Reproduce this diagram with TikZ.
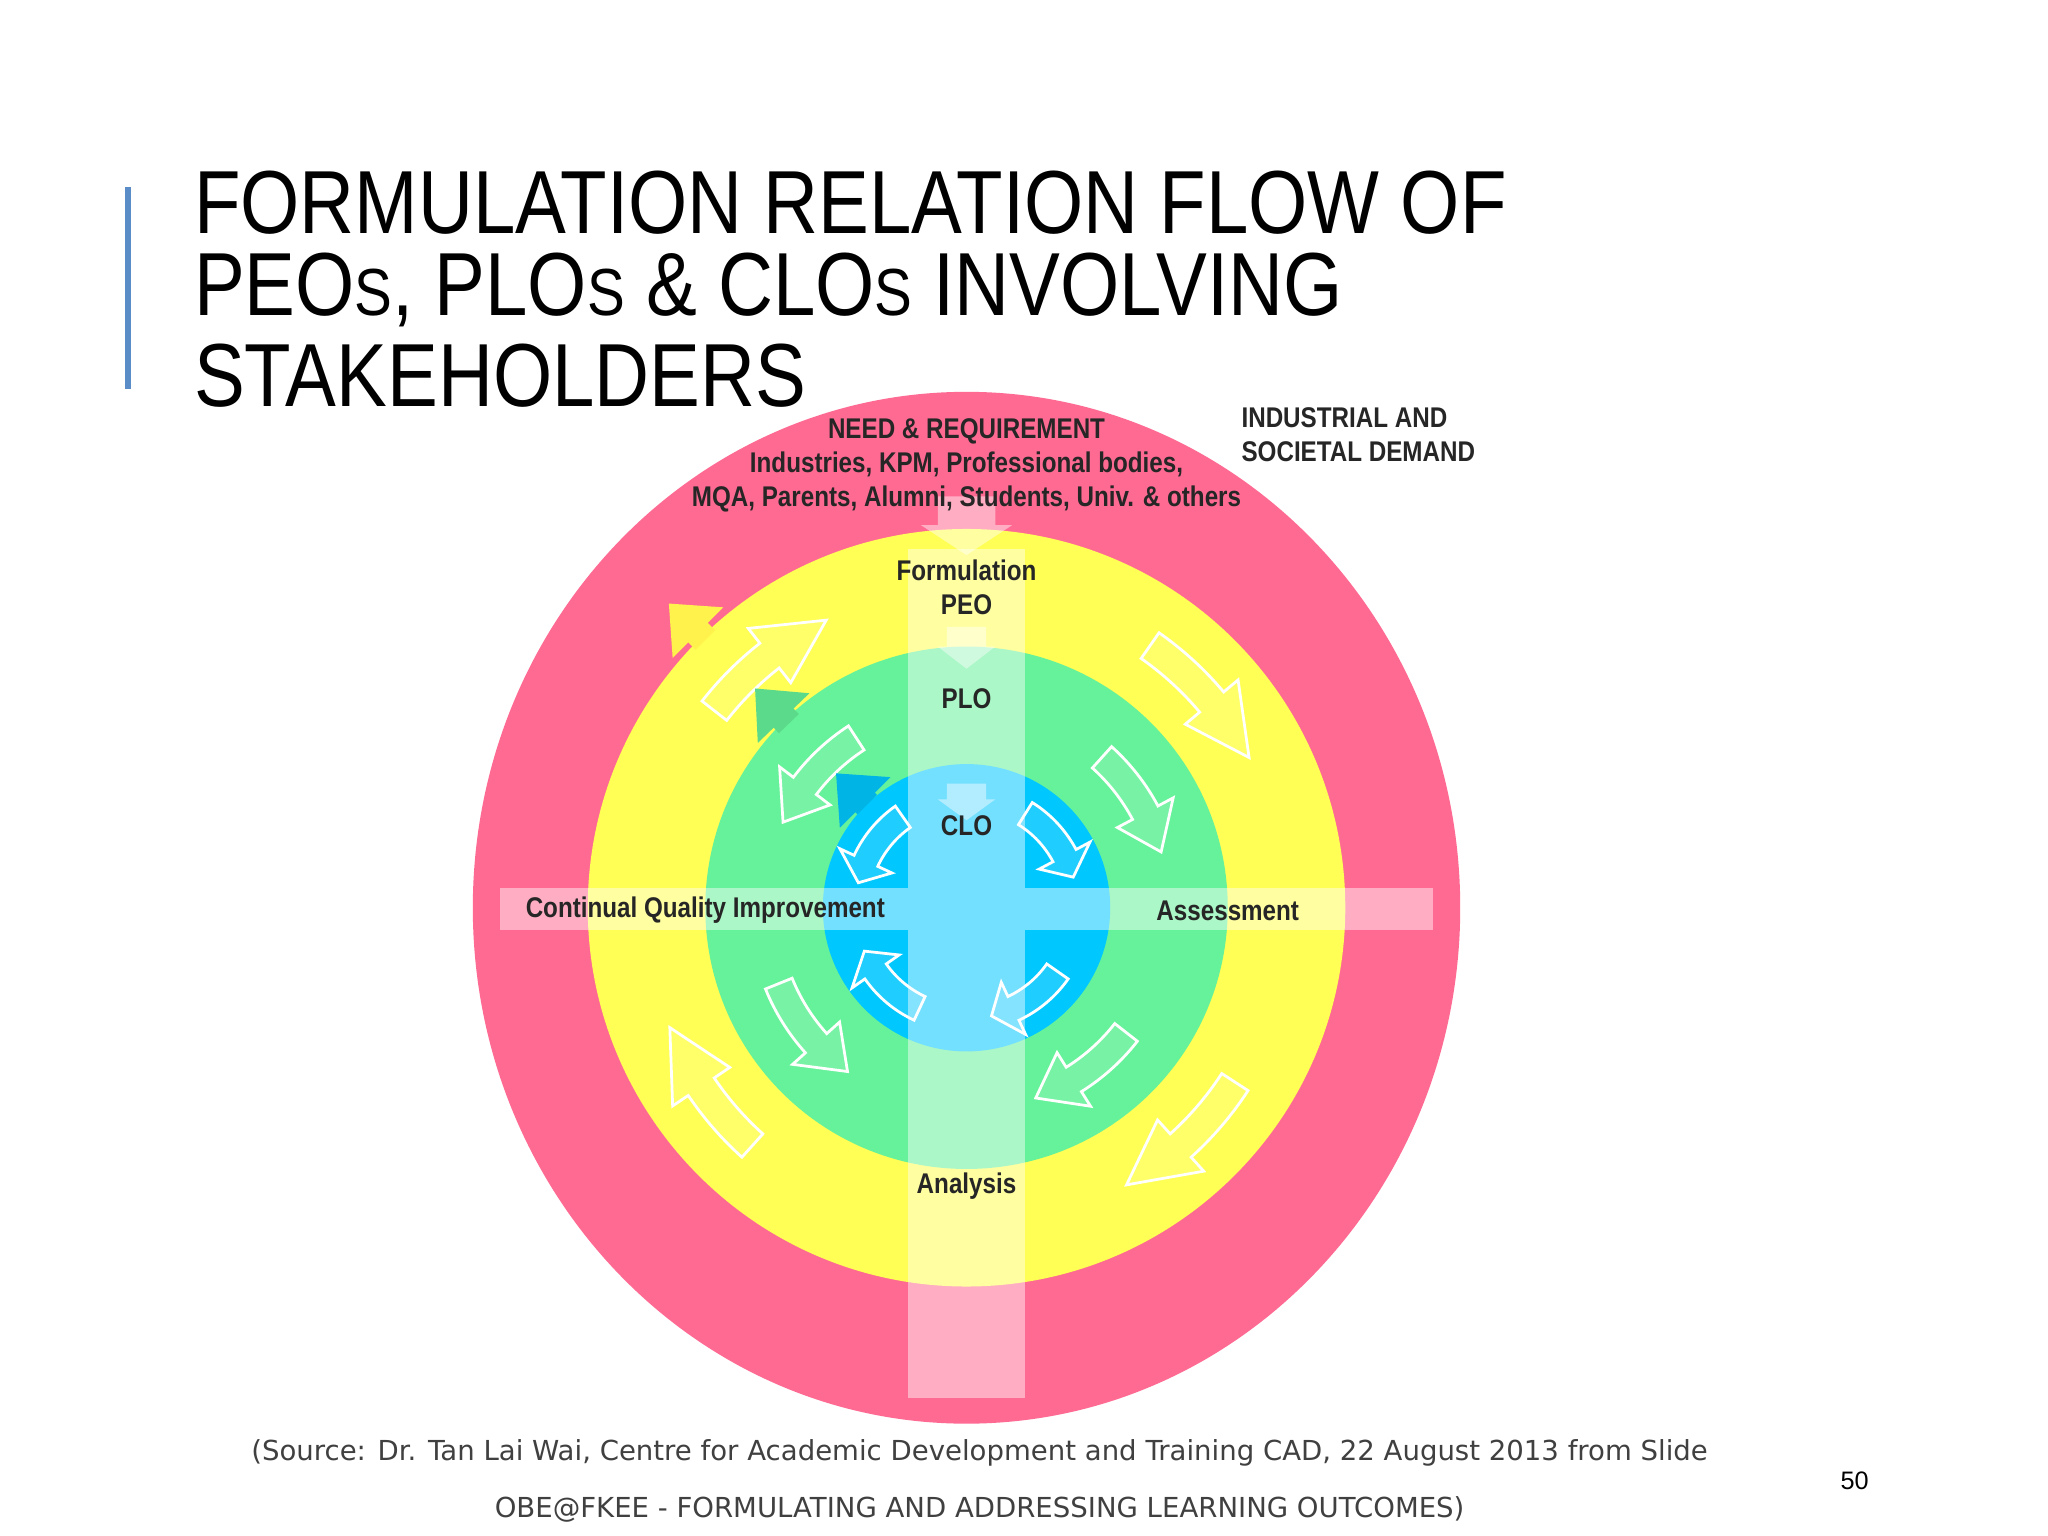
\documentclass[tikz,border=0pt]{standalone}
\usepackage{fontspec}
\setmainfont{Liberation Sans}
\newfontfamily\dejavu{DejaVu Sans}
\usetikzlibrary{calc,arrows.meta}
\definecolor{pinkc}{HTML}{FF6A93}
\definecolor{yelc}{HTML}{FFFF55}
\definecolor{grnc}{HTML}{66F29A}
\definecolor{bluc}{HTML}{00C8FF}
\tikzset{
 arrowst/.style={draw=white, line width=0.6pt, fill=white, fill opacity=0.12},
 lbl/.style={font=\bfseries\fontsize{6.2}{7.4}\selectfont, xscale=0.85, align=center, text=black!85},
 band/.style={fill=white, fill opacity=0.45, draw=none},
 colarrow/.style={line width=6pt, -{Triangle[length=9pt,width=15pt]}}
}
\newcommand\carrow[6]{%
 \pgfmathsetmacro\dd{(#5>#4)?12:-12}%
 \pgfmathsetmacro\tip{#5+\dd}%
 \path[arrowst] ($(#1,#2)+({-#4}:{#3+#6})$) arc[start angle={-#4}, end angle={-#5}, radius={#3+#6}]
  -- ($(#1,#2)+({-#5}:{#3+2.2*#6})$) -- ($(#1,#2)+({-\tip}:{#3})$) -- ($(#1,#2)+({-#5}:{#3-2.2*#6})$)
  -- ($(#1,#2)+({-#5}:{#3-#6})$) arc[start angle={-#5}, end angle={-#4}, radius={#3-#6}] -- cycle;}
\begin{document}
\begin{tikzpicture}[x=0.01cm,y=-0.01cm]
\useasboundingbox (0,0) rectangle (1568,1176);
\fill[white] (0,0) rectangle (1568,1176);
% title
\draw[color={rgb,255:red,90;green,140;blue,200}, line width=1.2pt] (98,143) -- (98,298);
\node[anchor=west, xscale=0.85, font=\fontsize{19.5}{20}\selectfont, inner sep=0] (t1) at (148,155) {FORMULATION RELATION FLOW OF};
\node[anchor=west, xscale=0.85, font=\fontsize{19.5}{20}\selectfont, inner sep=0] (t2) at (148,222) {PEO{\fontsize{14.5}{15}\selectfont S}, PLO{\fontsize{14.5}{15}\selectfont S} \& CLO{\fontsize{14.5}{15}\selectfont S} INVOLVING};
\node[anchor=west, xscale=0.85, font=\fontsize{19.5}{20}\selectfont, inner sep=0] (t3) at (148,288) {STAKEHOLDERS};
% circles
\fill[pinkc] (740,695) ellipse [x radius=378, y radius=395];
\fill[yelc] (740,695) circle (290);
\fill[grnc] (740,695) circle (200);
\fill[bluc] (740,695) circle (110);
% bands
\fill[band] (695,420) rectangle (785,1070);
\fill[band] (383,680) rectangle (695,712);
\fill[band] (785,680) rectangle (1097,712);
\fill[white, fill opacity=0.45] (718,380) -- (762,380) -- (762,402) -- (775,402) -- (740,425) -- (705,402) -- (718,402) -- cycle;
\fill[white, fill opacity=0.45] (725,480) -- (755,480) -- (755,495) -- (762,495) -- (740,512) -- (718,495) -- (725,495) -- cycle;
\fill[white, fill opacity=0.45] (725,600) -- (755,600) -- (755,612) -- (762,612) -- (740,628) -- (718,612) -- (725,612) -- cycle;
% curved arrows yellow ring
\carrow{740}{695}{245}{142}{128}{12}
\carrow{740}{695}{245}{55}{40}{12}
\carrow{740}{695}{245}{-33}{-48}{12}
\carrow{740}{695}{245}{-132}{-146}{12}
% green ring
\carrow{740}{695}{155}{123}{143}{11}
\carrow{740}{695}{155}{48}{28}{11}
\carrow{740}{695}{155}{-38}{-58}{11}
\carrow{740}{695}{155}{-158}{-138}{11}
% blue ring
\carrow{740}{695}{85}{125}{155}{10}
\carrow{740}{695}{85}{58}{28}{10}
\carrow{740}{695}{85}{-35}{-65}{10}
\carrow{740}{695}{85}{-115}{-145}{10}
% coloured arrows
\draw[colarrow, color=yelc!90!orange] (540,490) -- (512,462);
\draw[colarrow, color=grnc!90!black] (604,554) -- (578,527);
\draw[colarrow, color=bluc!90!black] (664,616) -- (640,592);
% labels
\node[lbl] (need) at (740,356) {NEED \& REQUIREMENT\\Industries, KPM, Professional bodies,\\MQA, Parents, Alumni, Students, Univ. \& others};
\node[lbl, anchor=west, align=left] (ind) at (940,333) {INDUSTRIAL AND\\SOCIETAL DEMAND};
\node[lbl] (peo) at (740,450) {Formulation\\PEO};
\node[lbl] (plo) at (740,535) {PLO};
\node[lbl] (clo) at (740,632) {CLO};
\node[lbl] (cqi) at (540,697) {Continual Quality Improvement};
\node[lbl] (ass) at (940,697) {Assessment};
\node[lbl] (ana) at (740,908) {Analysis};
% source
\node[font=\dejavu\fontsize{6.0}{12.5}\selectfont, align=center, text=black!75] (src) at (750,1134) {(Source: Dr. Tan Lai Wai, Centre for Academic Development and Training CAD, 22 August 2013 from Slide\\OBE@FKEE - FORMULATING AND ADDRESSING LEARNING OUTCOMES)};
\node[font=\fontsize{5.5}{6}\selectfont] (pg) at (1420,1134) {50};
\end{tikzpicture}
\end{document}
